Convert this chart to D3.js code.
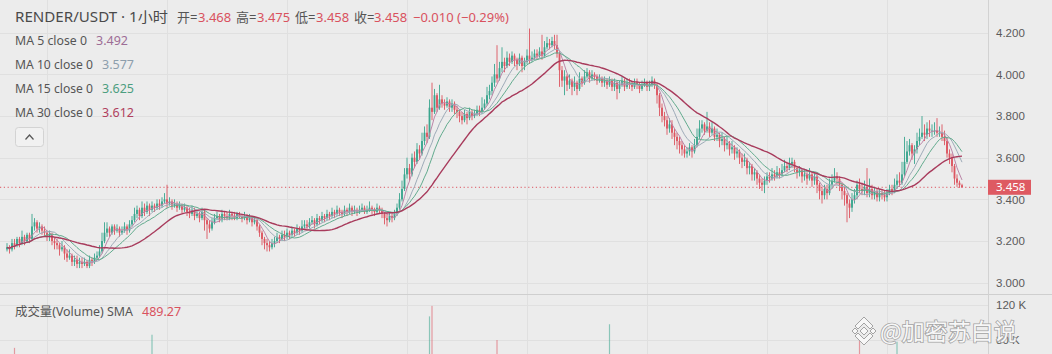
<!DOCTYPE html>
<html>
<head>
<meta charset="utf-8">
<script src="https://cdn.jsdelivr.net/npm/d3@7"></script>
<style>
  body { margin: 0; background: #ececec; }
  svg { display: block; font-family: "Noto Sans", "Noto Sans CJK SC", sans-serif; }
</style>
</head>
<body>
<svg id="chart" width="1052" height="354"></svg>
<script>
// hourly candles (open = previous close)
var firstOpen = 3.16
var closes = [
  3.17,3.16,3.19,3.18,3.21,3.19,3.22,3.20,3.23,3.21,
  3.27,3.29,3.26,3.27,3.25,3.24,3.22,3.23,3.20,3.19,
  3.18,3.16,3.17,3.14,3.12,3.13,3.10,3.11,3.09,3.10,
  3.09,3.10,3.08,3.11,3.10,3.12,3.13,3.15,3.20,3.24,
  3.26,3.24,3.27,3.25,3.26,3.24,3.25,3.27,3.25,3.28,
  3.30,3.33,3.35,3.32,3.36,3.34,3.37,3.35,3.37,3.36,
  3.38,3.37,3.39,3.40,3.38,3.39,3.37,3.38,3.36,3.37,
  3.35,3.36,3.34,3.33,3.35,3.32,3.33,3.31,3.34,3.30,
  3.28,3.26,3.29,3.31,3.32,3.30,3.33,3.32,3.31,3.33,
  3.32,3.31,3.33,3.32,3.31,3.32,3.30,3.31,3.29,3.30,
  3.27,3.24,3.21,3.19,3.18,3.17,3.19,3.20,3.22,3.21,
  3.23,3.22,3.24,3.23,3.25,3.24,3.26,3.25,3.27,3.28,
  3.27,3.29,3.30,3.28,3.31,3.30,3.32,3.31,3.33,3.32,
  3.34,3.33,3.35,3.34,3.33,3.35,3.34,3.36,3.34,3.35,
  3.34,3.35,3.36,3.34,3.35,3.36,3.35,3.34,3.36,3.35,
  3.33,3.31,3.30,3.32,3.31,3.33,3.36,3.40,3.45,3.52,
  3.55,3.52,3.60,3.58,3.64,3.62,3.68,3.72,3.70,3.84,
  3.82,3.90,3.84,3.88,3.86,3.85,3.87,3.84,3.86,3.83,
  3.82,3.80,3.78,3.81,3.79,3.82,3.80,3.81,3.83,3.82,
  3.84,3.86,3.90,3.92,3.96,4.00,3.98,4.03,4.06,4.04,
  4.08,4.06,4.09,4.07,4.05,4.08,4.04,4.06,4.09,4.07,
  4.08,4.10,4.09,4.11,4.09,4.13,4.15,4.14,4.16,4.14,
  4.10,4.02,3.97,3.99,3.95,3.97,3.94,3.96,3.93,3.98,
  3.96,3.99,4.01,3.98,4.00,3.99,3.97,3.98,3.96,3.97,
  3.95,3.97,3.94,3.96,3.93,3.95,3.97,3.94,3.96,3.95,
  3.94,3.96,3.95,3.93,3.95,3.96,3.94,3.95,3.97,3.95,
  3.90,3.84,3.80,3.78,3.74,3.76,3.72,3.70,3.68,3.66,
  3.64,3.62,3.63,3.65,3.63,3.66,3.70,3.74,3.76,3.73,
  3.75,3.72,3.74,3.70,3.71,3.68,3.69,3.66,3.67,3.64,
  3.65,3.62,3.63,3.60,3.58,3.59,3.55,3.56,3.52,3.53,
  3.50,3.48,3.47,3.49,3.51,3.50,3.52,3.51,3.53,3.52,
  3.54,3.56,3.55,3.57,3.58,3.55,3.53,3.54,3.51,3.52,
  3.50,3.52,3.49,3.51,3.47,3.44,3.42,3.45,3.43,3.47,
  3.49,3.51,3.50,3.47,3.44,3.42,3.38,3.36,3.40,3.42,
  3.47,3.45,3.44,3.46,3.43,3.45,3.42,3.44,3.41,3.43,
  3.42,3.41,3.43,3.45,3.44,3.47,3.49,3.48,3.52,3.58,
  3.63,3.66,3.62,3.64,3.68,3.70,3.72,3.71,3.74,3.73,
  3.73,3.73,3.72,3.72,3.70,3.68,3.62,3.60,3.56,3.50,
  3.48,3.468,3.458
]
var highs = [
  3.19,3.18,3.21,3.21,3.22,3.22,3.25,3.23,3.24,3.24,
  3.33,3.31,3.30,3.29,3.28,3.27,3.25,3.25,3.24,3.22,
  3.21,3.19,3.20,3.18,3.16,3.16,3.14,3.13,3.13,3.12,
  3.12,3.12,3.11,3.13,3.12,3.14,3.15,3.18,3.24,3.29,
  3.29,3.27,3.28,3.28,3.28,3.27,3.27,3.29,3.28,3.30,
  3.32,3.36,3.37,3.36,3.39,3.38,3.39,3.38,3.39,3.38,
  3.40,3.40,3.41,3.43,3.47,3.41,3.40,3.40,3.39,3.39,
  3.38,3.38,3.37,3.36,3.37,3.36,3.35,3.34,3.36,3.35,
  3.31,3.30,3.31,3.33,3.34,3.33,3.35,3.34,3.34,3.35,
  3.34,3.34,3.34,3.34,3.33,3.34,3.33,3.33,3.32,3.32,
  3.31,3.28,3.25,3.22,3.21,3.20,3.21,3.22,3.24,3.23,
  3.25,3.25,3.26,3.25,3.27,3.26,3.28,3.27,3.30,3.30,
  3.30,3.31,3.32,3.31,3.33,3.32,3.34,3.33,3.35,3.34,
  3.36,3.35,3.37,3.36,3.35,3.37,3.36,3.38,3.37,3.37,
  3.36,3.37,3.38,3.37,3.37,3.39,3.37,3.36,3.38,3.37,
  3.36,3.34,3.33,3.34,3.33,3.35,3.38,3.43,3.49,3.55,
  3.60,3.57,3.62,3.63,3.67,3.66,3.72,3.75,3.76,3.88,
  3.96,3.93,3.91,3.95,3.90,3.88,3.89,3.88,3.88,3.87,
  3.85,3.83,3.82,3.83,3.82,3.84,3.83,3.83,3.85,3.85,
  3.89,3.88,3.94,3.95,3.99,4.05,4.14,4.06,4.13,4.08,
  4.11,4.10,4.11,4.10,4.08,4.10,4.09,4.08,4.12,4.22,
  4.11,4.12,4.12,4.13,4.19,4.16,4.18,4.17,4.18,4.19,
  4.19,4.11,4.04,4.02,4.00,4.00,3.98,3.99,3.97,4.01,
  3.99,4.02,4.03,4.02,4.02,4.01,4.00,4.00,3.99,3.99,
  3.98,3.99,3.98,3.98,3.97,3.97,3.99,3.98,3.98,3.98,
  3.97,3.98,3.98,3.96,3.97,3.98,3.97,3.97,3.99,3.98,
  3.96,3.91,3.86,3.82,3.80,3.79,3.78,3.74,3.72,3.70,
  3.68,3.66,3.65,3.67,3.66,3.69,3.74,3.78,3.78,3.77,
  3.82,3.77,3.77,3.75,3.74,3.72,3.72,3.70,3.70,3.68,
  3.68,3.66,3.65,3.64,3.62,3.62,3.60,3.58,3.57,3.55,
  3.54,3.52,3.50,3.51,3.53,3.53,3.55,3.54,3.56,3.55,
  3.57,3.59,3.58,3.60,3.60,3.59,3.56,3.56,3.55,3.54,
  3.53,3.55,3.53,3.53,3.52,3.48,3.46,3.47,3.47,3.50,
  3.52,3.55,3.53,3.51,3.48,3.46,3.43,3.40,3.43,3.45,
  3.49,3.50,3.48,3.49,3.55,3.50,3.47,3.46,3.45,3.45,
  3.45,3.44,3.45,3.47,3.47,3.50,3.52,3.53,3.58,3.70,
  3.68,3.69,3.67,3.66,3.72,3.74,3.80,3.76,3.77,3.78,
  3.76,3.77,3.79,3.75,3.76,3.73,3.70,3.64,3.62,3.57,
  3.52,3.49,3.475
]
var lows = [
  3.15,3.14,3.15,3.16,3.17,3.17,3.18,3.18,3.19,3.19,
  3.20,3.25,3.24,3.24,3.23,3.22,3.20,3.20,3.18,3.16,
  3.16,3.13,3.15,3.11,3.10,3.11,3.08,3.08,3.07,3.07,
  3.07,3.08,3.07,3.07,3.08,3.09,3.11,3.12,3.14,3.19,
  3.22,3.22,3.23,3.23,3.24,3.22,3.23,3.24,3.23,3.24,
  3.27,3.29,3.31,3.30,3.31,3.32,3.33,3.32,3.34,3.34,
  3.35,3.35,3.36,3.38,3.36,3.37,3.35,3.36,3.34,3.35,
  3.33,3.34,3.32,3.31,3.32,3.30,3.31,3.29,3.30,3.25,
  3.21,3.24,3.25,3.28,3.30,3.29,3.29,3.30,3.30,3.30,
  3.30,3.30,3.30,3.31,3.29,3.30,3.28,3.29,3.27,3.28,
  3.25,3.22,3.18,3.16,3.15,3.15,3.16,3.17,3.19,3.19,
  3.20,3.20,3.21,3.21,3.22,3.22,3.23,3.23,3.24,3.26,
  3.25,3.26,3.28,3.26,3.27,3.28,3.29,3.29,3.30,3.30,
  3.31,3.31,3.32,3.32,3.31,3.32,3.32,3.33,3.32,3.33,
  3.32,3.33,3.34,3.33,3.33,3.34,3.33,3.32,3.33,3.33,
  3.31,3.28,3.27,3.29,3.29,3.30,3.32,3.35,3.39,3.44,
  3.50,3.49,3.51,3.55,3.57,3.59,3.61,3.66,3.67,3.69,
  3.78,3.81,3.82,3.83,3.84,3.83,3.84,3.82,3.82,3.81,
  3.79,3.77,3.76,3.77,3.76,3.78,3.78,3.79,3.80,3.80,
  3.81,3.83,3.85,3.88,3.90,3.94,3.96,3.97,4.01,4.01,
  4.03,4.04,4.05,4.04,4.02,4.04,4.01,4.02,4.05,4.05,
  4.06,4.07,4.07,4.08,4.07,4.08,4.12,4.12,4.13,4.12,
  4.08,3.94,3.94,3.90,3.92,3.93,3.90,3.92,3.90,3.92,
  3.94,3.95,3.98,3.96,3.97,3.97,3.95,3.96,3.94,3.94,
  3.93,3.94,3.92,3.92,3.88,3.91,3.94,3.92,3.93,3.93,
  3.92,3.93,3.93,3.91,3.92,3.94,3.92,3.92,3.94,3.93,
  3.86,3.80,3.77,3.75,3.71,3.72,3.69,3.66,3.64,3.62,
  3.61,3.60,3.60,3.61,3.60,3.62,3.65,3.69,3.72,3.71,
  3.72,3.70,3.71,3.68,3.68,3.65,3.66,3.63,3.64,3.61,
  3.62,3.59,3.60,3.57,3.55,3.56,3.52,3.52,3.49,3.49,
  3.47,3.45,3.44,3.43,3.47,3.48,3.49,3.49,3.50,3.50,
  3.51,3.53,3.53,3.54,3.55,3.53,3.50,3.51,3.48,3.49,
  3.47,3.49,3.46,3.47,3.43,3.40,3.38,3.40,3.40,3.42,
  3.45,3.48,3.47,3.44,3.40,3.37,3.29,3.31,3.34,3.38,
  3.40,3.43,3.42,3.42,3.41,3.41,3.40,3.40,3.39,3.39,
  3.40,3.39,3.39,3.42,3.42,3.43,3.45,3.46,3.47,3.51,
  3.57,3.61,3.59,3.57,3.62,3.66,3.69,3.68,3.69,3.70,
  3.70,3.71,3.70,3.70,3.68,3.66,3.60,3.57,3.53,3.47,
  3.46,3.455,3.458
]
// volume in K (only the spikes reach into the visible part of the pane)
var volumes = [
  35,28,40,71,45,30,44,26,33,29, 55,38,31,27,24,30,22,25,34,28,
  26,31,22,35,29,24,38,27,33,30, 25,21,28,30,22,26,24,35,48,60,
  45,32,28,24,20,22,19,25,21,30, 33,40,35,28,42,30,33,27,86,36,
  30,26,28,35,58,27,24,20,22,18, 21,19,24,22,18,26,20,23,25,40,
  44,30,26,22,19,17,21,18,16,20, 15,17,14,18,16,13,19,17,22,18,
  28,34,38,30,26,29,24,22,27,20, 18,16,20,15,19,17,22,18,24,21,
  19,23,25,18,22,20,24,19,26,21, 20,17,22,18,16,21,19,23,18,20,
  16,18,21,17,19,24,18,16,20,17, 22,30,28,21,19,24,36,48,55,62,
  58,44,60,42,55,40,52,50,46,107, 119,62,48,55,40,35,30,33,28,30,
  26,30,32,25,28,22,24,20,23,21, 30,28,45,40,52,58,80,46,55,38,
  40,35,30,28,33,26,30,24,32,60, 35,28,24,26,48,30,34,26,28,30,
  42,58,45,40,32,28,34,26,30,28, 24,26,22,20,18,21,19,17,20,18,
  22,98,30,24,40,26,20,22,18,19, 17,19,16,20,18,15,19,17,21,18,
  40,48,42,35,38,30,33,36,31,34, 38,42,30,26,28,25,32,35,30,27,
  45,30,26,28,24,27,22,25,21,26, 24,28,22,26,30,21,29,24,31,25,
  30,33,35,40,28,24,22,26,20,23, 25,28,22,24,26,30,28,22,30,24,
  26,22,28,24,32,36,40,30,34,28, 30,38,34,36,40,44,62,50,38,32,
  34,80,30,26,45,32,28,24,26,22, 24,22,26,28,25,30,78,32,45,60,
  55,48,40,38,46,42,58,36,34,30, 28,26,34,24,30,32,45,40,48,52,
  44,30,12
]

var priceTicks = [3.0, 3.2, 3.4, 3.6, 3.8, 4.0, 4.2]
var volTicks = [80, 120]
var timeGrid = [16, 64, 112, 160, 208, 256, 304, 352]   // candle index of each day-pair gridline
var maPeriods = [5, 10, 15, 30]
var maColors = ["#bb86a8", "#9eabb8", "#62ab8e", "#a83b5c"]
var maLabelColors = ["#9d6d96", "#8d9eac", "#4c9e80", "#b03f5d"]
var maValues = ["3.492", "3.577", "3.625", "3.612"]
var lastPrice = 3.458

var upColor = "#3aa68e", downColor = "#dc5560"
var axisX = 988, paneSplit = 294

var svg = d3.select("#chart")

var x = d3.scaleLinear().domain([0, closes.length - 1]).range([7, 962])
var y = d3.scaleLinear().domain([3.0, 4.2]).range([282.7, 32.7])
var yv = d3.scaleLinear().domain([0, 120]).range([410, 305])

var candles = closes.map(function(c, i) {
  var o = i ? closes[i - 1] : firstOpen
  return { i: i, o: o, c: c,
           h: Math.max(highs[i], o, c), l: Math.min(lows[i], o, c),
           v: volumes[i] }
})

svg.append("rect").attr("width", 1052).attr("height", 354).attr("fill", "#ececec")

var defs = svg.append("defs")
defs.append("clipPath").attr("id", "priceClip")
  .append("rect").attr("x", 0).attr("y", 0).attr("width", axisX).attr("height", paneSplit)
defs.append("clipPath").attr("id", "volClip")
  .append("rect").attr("x", 0).attr("y", paneSplit).attr("width", axisX).attr("height", 354 - paneSplit)

// grid
var grid = svg.append("g").attr("stroke", "#e0e0e0").attr("stroke-width", 1)
grid.selectAll(".vg").data(timeGrid).enter().append("line")
  .attr("x1", function(d) { return Math.round(x(d)) + 0.5 })
  .attr("x2", function(d) { return Math.round(x(d)) + 0.5 })
  .attr("y1", 0).attr("y2", 354)
grid.selectAll(".hg").data(priceTicks).enter().append("line")
  .attr("x1", 0).attr("x2", axisX)
  .attr("y1", function(d) { return Math.round(y(d)) + 0.5 })
  .attr("y2", function(d) { return Math.round(y(d)) + 0.5 })
grid.selectAll(".vhg").data(volTicks).enter().append("line")
  .attr("x1", 0).attr("x2", axisX)
  .attr("y1", function(d) { return Math.round(yv(d)) + 0.5 })
  .attr("y2", function(d) { return Math.round(yv(d)) + 0.5 })

// pane borders
svg.append("line").attr("x1", 0).attr("x2", 1052).attr("y1", paneSplit + 0.5).attr("y2", paneSplit + 0.5)
  .attr("stroke", "#cfcfcf")
svg.append("line").attr("x1", axisX + 0.5).attr("x2", axisX + 0.5).attr("y1", 0).attr("y2", 354)
  .attr("stroke", "#d2d2d2")

// volume bars
svg.append("g").attr("clip-path", "url(#volClip)")
  .selectAll(".vol").data(candles).enter().append("rect")
  .attr("x", function(d) { return x(d.i) - 0.6 })
  .attr("width", 1.2)
  .attr("y", function(d) { return yv(d.v) })
  .attr("height", function(d) { return yv(0) - yv(d.v) })
  .attr("fill", function(d) { return d.c >= d.o ? upColor : downColor })
  .attr("opacity", 0.55)

var price = svg.append("g").attr("clip-path", "url(#priceClip)")

// last price line
price.append("line")
  .attr("x1", 0).attr("x2", axisX)
  .attr("y1", y(lastPrice)).attr("y2", y(lastPrice))
  .attr("stroke", downColor).attr("stroke-width", 1)
  .attr("stroke-dasharray", "1.2,2.6")

// candles
var cg = price.selectAll(".candle").data(candles).enter().append("g")
cg.append("line")
  .attr("x1", function(d) { return x(d.i) }).attr("x2", function(d) { return x(d.i) })
  .attr("y1", function(d) { return y(d.h) }).attr("y2", function(d) { return y(d.l) })
  .attr("stroke", function(d) { return d.c >= d.o ? upColor : downColor })
  .attr("stroke-width", 0.9)
cg.append("rect")
  .attr("x", function(d) { return x(d.i) - 0.9 })
  .attr("width", 1.8)
  .attr("y", function(d) { return y(Math.max(d.o, d.c)) })
  .attr("height", function(d) { return Math.max(1, Math.abs(y(d.o) - y(d.c))) })
  .attr("fill", function(d) { return d.c >= d.o ? upColor : downColor })

// moving averages
maPeriods.forEach(function(n, k) {
  var ma = closes.map(function(c, i) {
    return d3.mean(closes.slice(Math.max(0, i - n + 1), i + 1))
  })
  price.append("path")
    .datum(ma)
    .attr("fill", "none")
    .attr("stroke", maColors[k])
    .attr("stroke-width", n == 30 ? 1.4 : 1)
    .attr("d", d3.line()
      .x(function(d, i) { return x(i) })
      .y(function(d) { return y(d) }))
})

// price axis
var pAxis = svg.append("g")
  .attr("transform", "translate(" + axisX + ",0)")
  .call(d3.axisRight(y).tickValues(priceTicks).tickFormat(d3.format(".3f")).tickSize(0).tickPadding(8))
pAxis.select(".domain").remove()
pAxis.selectAll("text").attr("fill", "#5a5a5a").attr("font-size", "11.5px").attr("font-family", null)

var vAxis = svg.append("g")
  .attr("transform", "translate(" + axisX + ",0)")
  .call(d3.axisRight(yv).tickValues(volTicks).tickFormat(function(d) { return d + " K" }).tickSize(0).tickPadding(8))
vAxis.select(".domain").remove()
vAxis.selectAll("text").attr("fill", "#5a5a5a").attr("font-size", "11.5px").attr("font-family", null)

// last price tag
svg.append("rect")
  .attr("x", axisX).attr("y", y(lastPrice) - 7.5)
  .attr("width", 43).attr("height", 15)
  .attr("fill", "#de5a62")
svg.append("text")
  .attr("x", axisX + 8).attr("y", y(lastPrice)).attr("dy", "0.36em")
  .attr("fill", "#fff").attr("font-size", "11.5px")
  .text(d3.format(".3f")(lastPrice))

// header
var head = svg.append("g").attr("font-size", "13px")
head.append("text").attr("x", 15).attr("y", 22).attr("font-size", "14px").attr("fill", "#4a4a4a")
  .attr("textLength", 153).attr("lengthAdjust", "spacingAndGlyphs")
  .text("RENDER/USDT · 1小时")
var ohlc = [["开=", 177, "3.468", 198], ["高=", 236, "3.475", 257],
            ["低=", 295, "3.458", 316], ["收=", 354, "3.458", 374]]
ohlc.forEach(function(p) {
  head.append("text").attr("x", p[1]).attr("y", 22).attr("fill", "#555").text(p[0])
  head.append("text").attr("x", p[3]).attr("y", 22).attr("fill", "#d9525e").text(p[2])
})
head.append("text").attr("x", 413).attr("y", 22).attr("fill", "#d9525e").text("−0.010 (−0.29%)")

var legend = svg.append("g").attr("font-size", "12.5px")
maPeriods.forEach(function(n, k) {
  var yy = 45 + k * 24
  legend.append("text").attr("x", 15).attr("y", yy).attr("fill", "#555")
    .attr("textLength", n < 10 ? 72 : 78).attr("lengthAdjust", "spacingAndGlyphs")
    .text("MA " + n + " close 0")
  legend.append("text").attr("x", n < 10 ? 96 : 102).attr("y", yy).attr("fill", maLabelColors[k])
    .text(maValues[k])
})

// collapse button
svg.append("rect").attr("x", 15.5).attr("y", 127.5).attr("width", 28).attr("height", 19).attr("rx", 3)
  .attr("fill", "#f1f1f1").attr("stroke", "#d3d3d3")
svg.append("path").attr("d", "M25.5,139.5 L29.5,135 L33.5,139.5")
  .attr("fill", "none").attr("stroke", "#555").attr("stroke-width", 1.2)

// volume label
svg.append("text").attr("x", 15).attr("y", 316).attr("font-size", "12.5px").attr("fill", "#555")
  .attr("textLength", 118).attr("lengthAdjust", "spacingAndGlyphs")
  .text("成交量(Volume) SMA")
svg.append("text").attr("x", 142).attr("y", 316).attr("font-size", "12.5px").attr("fill", "#d9525e")
  .text("489.27")

// watermark
var wm = svg.append("g").attr("fill", "#f7f7f7").attr("stroke", "#a3a3a3").attr("stroke-width", 1)
var cx = 864, cy = 331
var dia = function(px, py, r) {
  return "M" + px + "," + (py - r) + "L" + (px + r) + "," + py + "L" + px + "," + (py + r) + "L" + (px - r) + "," + py + "Z"
}
wm.append("path").attr("d", dia(cx, cy, 4))
wm.append("path").attr("d", dia(cx - 9, cy, 3))
wm.append("path").attr("d", dia(cx + 9, cy, 3))
wm.append("path").attr("d", "M" + (cx - 9) + "," + (cy - 5) + "L" + cx + "," + (cy - 14) + "L" + (cx + 9) + "," + (cy - 5) +
  "L" + (cx + 6) + "," + (cy - 2) + "L" + cx + "," + (cy - 8) + "L" + (cx - 6) + "," + (cy - 2) + "Z")
wm.append("path").attr("d", "M" + (cx - 9) + "," + (cy + 5) + "L" + cx + "," + (cy + 14) + "L" + (cx + 9) + "," + (cy + 5) +
  "L" + (cx + 6) + "," + (cy + 2) + "L" + cx + "," + (cy + 8) + "L" + (cx - 6) + "," + (cy + 2) + "Z")
wm.append("text").attr("x", 880).attr("y", 340)
  .attr("font-size", "23px").attr("font-family", "Noto Sans CJK SC, sans-serif")
  .attr("paint-order", "stroke").attr("stroke-width", 1.6)
  .text("@加密苏白说")
</script>
</body>
</html>
